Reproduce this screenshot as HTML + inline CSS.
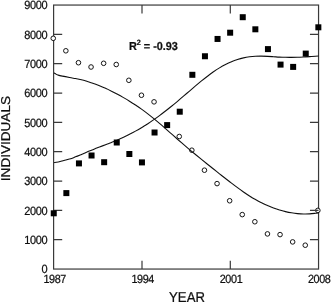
<!DOCTYPE html>
<html><head><meta charset="utf-8"><title>Chart</title>
<style>html,body{margin:0;padding:0;background:#fff;overflow:hidden}svg{display:block}text{text-rendering:geometricPrecision;font-family:"Liberation Sans",Arial,sans-serif;fill:#0c0c0c;stroke:#0c0c0c;stroke-width:0.22px}</style></head>
<body>
<svg width="331" height="303" viewBox="0 0 331 303">
<rect width="331" height="303" fill="#fff"/>
<defs><filter id="b" x="0" y="0" width="331" height="303" filterUnits="userSpaceOnUse"><feGaussianBlur stdDeviation="0.25"/></filter></defs>
<g fill="none" stroke="#3a3a3a" stroke-width="1.2">
<rect x="53.60" y="5.05" width="264.95" height="264.00"/>
</g>
<g filter="url(#b)" fill="#fff" stroke="#141414" stroke-width="1.0">
<circle cx="53.25" cy="38.30" r="2.3"/>
<circle cx="65.85" cy="50.80" r="2.3"/>
<circle cx="78.45" cy="62.70" r="2.3"/>
<circle cx="91.05" cy="67.00" r="2.3"/>
<circle cx="103.65" cy="63.30" r="2.3"/>
<circle cx="116.25" cy="64.50" r="2.3"/>
<circle cx="128.85" cy="80.30" r="2.3"/>
<circle cx="141.45" cy="95.25" r="2.3"/>
<circle cx="154.05" cy="101.85" r="2.3"/>
<circle cx="179.25" cy="136.50" r="2.3"/>
<circle cx="191.85" cy="150.20" r="2.3"/>
<circle cx="204.45" cy="170.20" r="2.3"/>
<circle cx="217.05" cy="183.60" r="2.3"/>
<circle cx="229.65" cy="200.75" r="2.3"/>
<circle cx="242.25" cy="214.60" r="2.3"/>
<circle cx="254.85" cy="221.75" r="2.3"/>
<circle cx="267.45" cy="233.90" r="2.3"/>
<circle cx="280.05" cy="234.60" r="2.3"/>
<circle cx="292.65" cy="241.90" r="2.3"/>
<circle cx="305.25" cy="245.20" r="2.3"/>
<circle cx="317.85" cy="210.40" r="2.3"/>
</g>
<g fill="none" stroke="#3a3a3a" stroke-width="1.2">
<path d="M53.60 239.72h8.6 M318.55 239.72h-8.6 M53.60 210.38h8.6 M318.55 210.38h-8.6 M53.60 181.05h8.6 M318.55 181.05h-8.6 M53.60 151.72h8.6 M318.55 151.72h-8.6 M53.60 122.38h8.6 M318.55 122.38h-8.6 M53.60 93.05h8.6 M318.55 93.05h-8.6 M53.60 63.72h8.6 M318.55 63.72h-8.6 M53.60 34.38h8.6 M318.55 34.38h-8.6 M142.00 5.05v8.4 M142.00 269.05v-8.4 M230.30 5.05v8.4 M230.30 269.05v-8.4"/>
</g>
<g filter="url(#b)">
<g fill="none" stroke="#111" stroke-width="1.08">
<path d="M54.10 162.62 C54.79 162.53 55.68 162.66 58.25 162.06 C60.82 161.47 66.62 159.94 69.50 159.07 C72.38 158.20 73.50 157.63 75.50 156.85 C77.50 156.07 79.50 155.22 81.50 154.39 C83.50 153.56 85.50 152.69 87.50 151.85 C89.50 151.02 91.50 150.18 93.50 149.38 C95.50 148.57 97.50 147.80 99.50 147.03 C101.50 146.25 103.50 145.50 105.50 144.72 C107.50 143.95 109.50 143.18 111.50 142.38 C113.50 141.57 115.50 140.77 117.50 139.91 C119.50 139.05 121.50 138.17 123.50 137.24 C125.50 136.30 127.50 135.33 129.50 134.31 C131.50 133.30 133.50 132.24 135.50 131.13 C137.50 130.02 139.50 128.87 141.50 127.67 C143.50 126.47 145.50 125.23 147.50 123.93 C149.50 122.63 151.50 121.28 153.50 119.89 C155.50 118.49 157.50 117.05 159.50 115.57 C161.50 114.09 163.50 112.56 165.50 111.01 C167.50 109.46 169.50 107.86 171.50 106.24 C173.50 104.62 175.50 102.97 177.50 101.30 C179.50 99.63 181.50 97.92 183.50 96.21 C185.50 94.51 187.50 92.77 189.50 91.06 C191.50 89.34 193.50 87.62 195.50 85.93 C197.50 84.25 199.50 82.57 201.50 80.94 C203.50 79.32 205.50 77.72 207.50 76.20 C209.50 74.68 211.50 73.20 213.50 71.81 C215.50 70.42 217.50 69.10 219.50 67.88 C221.50 66.66 223.50 65.53 225.50 64.50 C227.50 63.48 229.50 62.55 231.50 61.72 C233.50 60.89 235.50 60.16 237.50 59.52 C239.50 58.88 241.50 58.33 243.50 57.88 C245.50 57.42 247.50 57.07 249.50 56.79 C251.50 56.52 253.50 56.35 255.50 56.25 C257.50 56.14 259.50 56.13 261.50 56.15 C263.50 56.17 265.50 56.26 267.50 56.35 C269.50 56.45 271.50 56.59 273.50 56.72 C275.50 56.84 277.50 56.99 279.50 57.09 C281.50 57.19 283.50 57.28 285.50 57.33 C287.50 57.37 289.50 57.38 291.50 57.36 C293.50 57.35 295.50 57.30 297.50 57.23 C299.50 57.17 301.50 57.07 303.50 56.97 C305.50 56.87 307.50 56.74 309.50 56.61 C311.50 56.49 314.00 56.31 315.50 56.21 C317.00 56.10 318.00 56.03 318.50 55.99"/>
<path d="M54.10 72.88 C54.33 73.03 54.81 73.41 55.50 73.78 C56.19 74.16 55.92 74.50 58.25 75.12 C60.58 75.74 66.62 76.95 69.50 77.52 C72.38 78.09 73.50 78.17 75.50 78.55 C77.50 78.93 79.50 79.32 81.50 79.80 C83.50 80.28 85.50 80.82 87.50 81.42 C89.50 82.02 91.50 82.70 93.50 83.42 C95.50 84.14 97.50 84.92 99.50 85.74 C101.50 86.57 103.50 87.45 105.50 88.36 C107.50 89.28 109.50 90.24 111.50 91.23 C113.50 92.22 115.50 93.25 117.50 94.32 C119.50 95.38 121.50 96.49 123.50 97.63 C125.50 98.78 127.50 99.96 129.50 101.20 C131.50 102.43 133.50 103.70 135.50 105.03 C137.50 106.36 139.50 107.73 141.50 109.16 C143.50 110.59 145.50 112.07 147.50 113.61 C149.50 115.14 151.50 116.75 153.50 118.38 C155.50 120.01 157.50 121.71 159.50 123.42 C161.50 125.12 163.50 126.88 165.50 128.63 C167.50 130.38 169.50 132.16 171.50 133.93 C173.50 135.70 175.50 137.48 177.50 139.24 C179.50 140.99 181.50 142.74 183.50 144.46 C185.50 146.18 187.50 147.87 189.50 149.55 C191.50 151.23 193.50 152.89 195.50 154.53 C197.50 156.18 199.50 157.81 201.50 159.43 C203.50 161.05 205.50 162.65 207.50 164.25 C209.50 165.85 211.50 167.44 213.50 169.03 C215.50 170.62 217.50 172.21 219.50 173.80 C221.50 175.38 223.50 176.97 225.50 178.53 C227.50 180.10 229.50 181.66 231.50 183.18 C233.50 184.71 235.50 186.22 237.50 187.68 C239.50 189.14 241.50 190.57 243.50 191.95 C245.50 193.32 247.50 194.65 249.50 195.92 C251.50 197.18 253.50 198.39 255.50 199.53 C257.50 200.67 259.50 201.74 261.50 202.75 C263.50 203.76 265.50 204.71 267.50 205.58 C269.50 206.46 271.50 207.27 273.50 208.01 C275.50 208.75 277.50 209.43 279.50 210.03 C281.50 210.64 283.50 211.17 285.50 211.64 C287.50 212.11 289.50 212.51 291.50 212.83 C293.50 213.16 295.50 213.42 297.50 213.60 C299.50 213.78 301.50 213.90 303.50 213.94 C305.50 213.98 307.50 213.95 309.50 213.84 C311.50 213.74 314.03 213.46 315.50 213.31 C316.97 213.15 317.83 212.97 318.30 212.90"/>
</g>
<g fill="#000">
<rect x="50.75" y="210.30" width="6" height="6"/>
<rect x="63.35" y="190.10" width="6" height="6"/>
<rect x="75.95" y="160.40" width="6" height="6"/>
<rect x="88.55" y="152.50" width="6" height="6"/>
<rect x="101.15" y="159.20" width="6" height="6"/>
<rect x="113.75" y="139.50" width="6" height="6"/>
<rect x="126.35" y="151.00" width="6" height="6"/>
<rect x="138.95" y="159.40" width="6" height="6"/>
<rect x="151.55" y="129.50" width="6" height="6"/>
<rect x="164.15" y="122.10" width="6" height="6"/>
<rect x="176.75" y="108.70" width="6" height="6"/>
<rect x="189.35" y="71.80" width="6" height="6"/>
<rect x="201.95" y="53.25" width="6" height="6"/>
<rect x="214.55" y="35.95" width="6" height="6"/>
<rect x="227.15" y="29.70" width="6" height="6"/>
<rect x="239.75" y="14.20" width="6" height="6"/>
<rect x="252.35" y="26.30" width="6" height="6"/>
<rect x="264.95" y="46.10" width="6" height="6"/>
<rect x="277.55" y="61.60" width="6" height="6"/>
<rect x="290.15" y="63.90" width="6" height="6"/>
<rect x="302.75" y="50.60" width="6" height="6"/>
<rect x="315.35" y="24.30" width="6" height="6"/>
</g>
<text transform="translate(47.30 273.30) scale(0.915 1)" font-size="12.00" text-anchor="end" letter-spacing="-0.4">0</text>
<text transform="translate(47.30 243.97) scale(0.915 1)" font-size="12.00" text-anchor="end" letter-spacing="-0.4">1000</text>
<text transform="translate(47.30 214.63) scale(0.915 1)" font-size="12.00" text-anchor="end" letter-spacing="-0.4">2000</text>
<text transform="translate(47.30 185.30) scale(0.915 1)" font-size="12.00" text-anchor="end" letter-spacing="-0.4">3000</text>
<text transform="translate(47.30 155.97) scale(0.915 1)" font-size="12.00" text-anchor="end" letter-spacing="-0.4">4000</text>
<text transform="translate(47.30 126.63) scale(0.915 1)" font-size="12.00" text-anchor="end" letter-spacing="-0.4">5000</text>
<text transform="translate(47.30 97.30) scale(0.915 1)" font-size="12.00" text-anchor="end" letter-spacing="-0.4">6000</text>
<text transform="translate(47.30 67.97) scale(0.915 1)" font-size="12.00" text-anchor="end" letter-spacing="-0.4">7000</text>
<text transform="translate(47.30 38.63) scale(0.915 1)" font-size="12.00" text-anchor="end" letter-spacing="-0.4">8000</text>
<text transform="translate(47.30 9.30) scale(0.915 1)" font-size="12.00" text-anchor="end" letter-spacing="-0.4">9000</text>
<text transform="translate(54.70 283.20) scale(0.900 1)" font-size="12.00" text-anchor="middle" letter-spacing="-0.4">1987</text>
<text transform="translate(142.70 283.20) scale(0.900 1)" font-size="12.00" text-anchor="middle" letter-spacing="-0.4">1994</text>
<text transform="translate(231.00 283.20) scale(0.900 1)" font-size="12.00" text-anchor="middle" letter-spacing="-0.4">2001</text>
<text transform="translate(319.20 283.20) scale(0.900 1)" font-size="12.00" text-anchor="middle" letter-spacing="-0.4">2008</text>
<text transform="translate(187.00 301.80) scale(0.920 1)" font-size="14.30" text-anchor="middle">YEAR</text>
<text transform="translate(10.20 138.60) rotate(-90) scale(1.059 1)" font-size="12.80" text-anchor="middle">INDIVIDUALS</text>
<text transform="translate(128.9 49.7) scale(0.945 1)" font-size="11.5" font-weight="bold">R<tspan font-size="7.6" dy="-5.1">2</tspan><tspan dy="5.1"> = -0.93</tspan></text>
</g>
</svg></body></html>
